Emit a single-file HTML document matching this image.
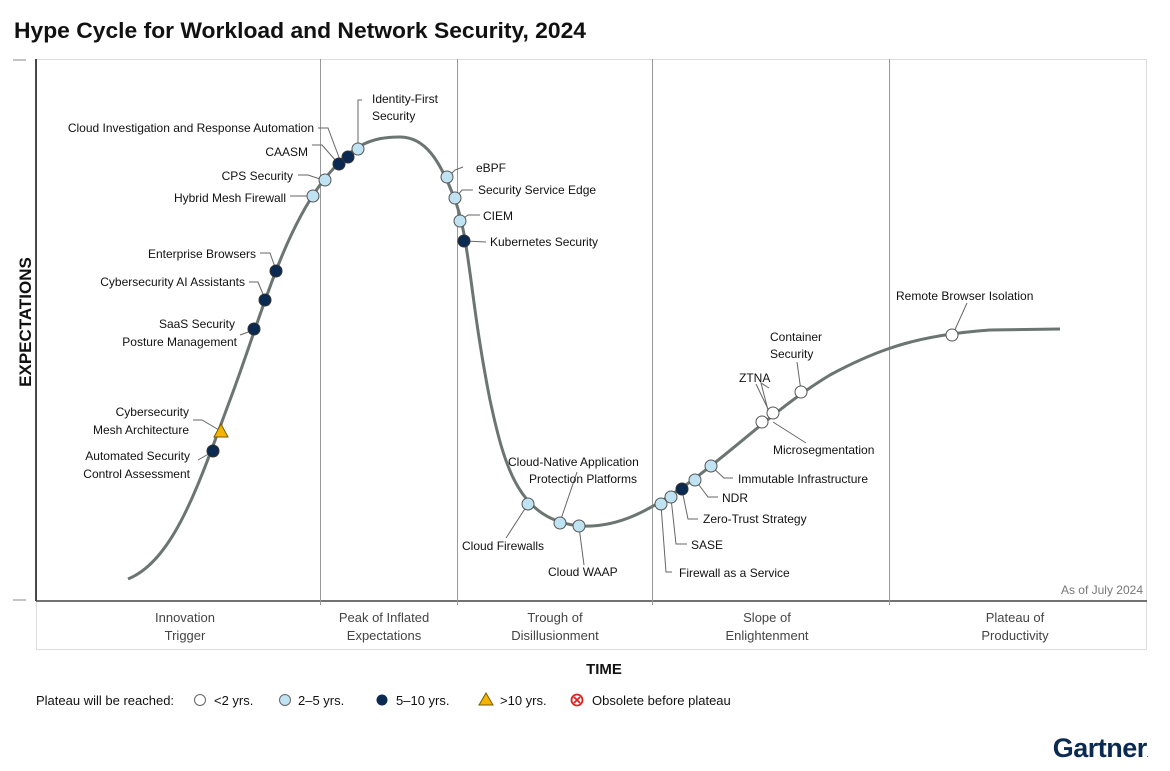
<!DOCTYPE html>
<html><head><meta charset="utf-8"><style>
html,body{margin:0;padding:0;background:#fff;}
svg{display:block;font-family:"Liberation Sans",sans-serif;}
.l{font-size:12px;fill:#111;}
.ln{fill:none;stroke:#666;stroke-width:1;}
.g{fill:#fff;stroke:#555;stroke-width:1;}
.b{fill:#bfe3f2;stroke:#555;stroke-width:1;}
.n{fill:#0b2a52;stroke:#333;stroke-width:1;}
.ph{font-size:13px;fill:#444;}
</style></head><body>
<svg width="1170" height="771" viewBox="0 0 1170 771">
<text x="14" y="38" font-size="22" font-weight="bold" fill="#111" textLength="572" lengthAdjust="spacingAndGlyphs">Hype Cycle for Workload and Network Security, 2024</text>
<!-- frame -->
<line x1="36" y1="59.5" x2="1147" y2="59.5" stroke="#ddd"/>
<line x1="1146.5" y1="59" x2="1146.5" y2="650" stroke="#ddd"/>
<line x1="36.5" y1="59" x2="36.5" y2="650" stroke="#ddd"/>
<line x1="36" y1="649.5" x2="1147" y2="649.5" stroke="#ddd"/>
<line x1="36" y1="59" x2="36" y2="601" stroke="#111" stroke-width="1.5"/>
<line x1="36" y1="601" x2="1147" y2="601" stroke="#444" stroke-width="1.5"/>
<line x1="13" y1="60" x2="26" y2="60" stroke="#888"/>
<line x1="13" y1="600" x2="26" y2="600" stroke="#888"/>
<g stroke="#999" stroke-width="1">
<line x1="320.5" y1="59" x2="320.5" y2="605"/>
<line x1="457.5" y1="59" x2="457.5" y2="605"/>
<line x1="652.5" y1="59" x2="652.5" y2="605"/>
<line x1="889.5" y1="59" x2="889.5" y2="605"/>
</g>
<text x="1143" y="594" font-size="12" fill="#777" text-anchor="end">As of July 2024</text>
<g class="ph" text-anchor="middle">
<text x="185" y="622">Innovation</text><text x="185" y="640">Trigger</text>
<text x="384" y="622">Peak of Inflated</text><text x="384" y="640">Expectations</text>
<text x="555" y="622">Trough of</text><text x="555" y="640">Disillusionment</text>
<text x="767" y="622">Slope of</text><text x="767" y="640">Enlightenment</text>
<text x="1015" y="622">Plateau of</text><text x="1015" y="640">Productivity</text>
</g>
<text x="604" y="674" font-size="15" font-weight="bold" text-anchor="middle" fill="#111">TIME</text>
<text transform="translate(31,322) rotate(-90)" font-size="17" font-weight="bold" text-anchor="middle" fill="#111">EXPECTATIONS</text>
<!-- curve -->
<path d="M128,579 C175,560 200,480 230,400 C260,320 280,240 320,185 C350,145 370,137 400,137 C425,137 440,160 455,200 C470,240 470,300 490,400 C505,470 520,520 580,526 C620,528 650,510 690,482 C740,445 780,405 830,375 C880,348 920,335 990,330 L1060,329" fill="none" stroke="#6b7572" stroke-width="3"/>
<!-- leaders -->
<g class="ln">
<polyline points="318,128 328,128 340,160"/>
<polyline points="312,145 322,145 337,162"/>
<polyline points="298,175 308,175 323,180"/>
<polyline points="290,196 313,196"/>
<polyline points="362,100 358,100 358,148"/>
<polyline points="463,167 455,170 448,177"/>
<polyline points="473,190 462,190 456,197"/>
<polyline points="480,215 468,215 461,220"/>
<polyline points="486,242 465,241"/>
<polyline points="260,253 270,253 276,270"/>
<polyline points="249,282 258,282 265,299"/>
<polyline points="240,335 254,330"/>
<polyline points="193,420 202,420 219,430"/>
<polyline points="198,460 212,452"/>
<polyline points="506,538 528,504"/>
<polyline points="577,472 560,522"/>
<polyline points="584,565 579,527"/>
<polyline points="672,572 666,572 661,505"/>
<polyline points="687,544 676,544 671,498"/>
<polyline points="698,519 688,519 682,490"/>
<polyline points="718,497 708,497 696,481"/>
<polyline points="733,478 724,478 712,467"/>
<polyline points="769,388 761,383 768,410"/>
<polyline points="756,384 769,411"/>
<polyline points="797,362 801,391"/>
<polyline points="806,443 773,422"/>
<polyline points="967,303 953,334"/>
</g>
<!-- dots -->
<circle class="n" cx="213" cy="451" r="6"/>
<polygon points="221,424 228,437 214,437" fill="#f5b400" stroke="#7a5a00" stroke-width="1"/>
<circle class="n" cx="254" cy="329" r="6"/>
<circle class="n" cx="265" cy="300" r="6"/>
<circle class="n" cx="276" cy="271" r="6"/>
<circle class="b" cx="313" cy="196" r="6"/>
<circle class="b" cx="325" cy="180" r="6"/>
<circle class="n" cx="339" cy="164" r="6"/>
<circle class="n" cx="348" cy="157" r="6"/>
<circle class="b" cx="358" cy="149" r="6"/>
<circle class="b" cx="447" cy="177" r="6"/>
<circle class="b" cx="455" cy="198" r="6"/>
<circle class="b" cx="460" cy="221" r="6"/>
<circle class="n" cx="464" cy="241" r="6"/>
<circle class="b" cx="528" cy="504" r="6"/>
<circle class="b" cx="560" cy="523" r="6"/>
<circle class="b" cx="579" cy="526" r="6"/>
<circle class="b" cx="661" cy="504" r="6"/>
<circle class="b" cx="671" cy="497" r="6"/>
<circle class="n" cx="682" cy="489" r="6"/>
<circle class="b" cx="695" cy="480" r="6"/>
<circle class="b" cx="711" cy="466" r="6"/>
<circle class="g" cx="762" cy="422" r="6"/>
<circle class="g" cx="773" cy="413" r="6"/>
<circle class="g" cx="801" cy="392" r="6"/>
<circle class="g" cx="952" cy="335" r="6"/>
<!-- labels -->
<g class="l">
<text x="314" y="132" text-anchor="end">Cloud Investigation and Response Automation</text>
<text x="308" y="156" text-anchor="end">CAASM</text>
<text x="293" y="180" text-anchor="end">CPS Security</text>
<text x="286" y="202" text-anchor="end">Hybrid Mesh Firewall</text>
<text x="372" y="103">Identity-First</text><text x="372" y="120">Security</text>
<text x="476" y="172">eBPF</text>
<text x="478" y="194">Security Service Edge</text>
<text x="483" y="220">CIEM</text>
<text x="490" y="246">Kubernetes Security</text>
<text x="256" y="258" text-anchor="end">Enterprise Browsers</text>
<text x="245" y="286" text-anchor="end">Cybersecurity AI Assistants</text>
<text x="235" y="328" text-anchor="end">SaaS Security</text><text x="237" y="346" text-anchor="end">Posture Management</text>
<text x="189" y="416" text-anchor="end">Cybersecurity</text><text x="189" y="434" text-anchor="end">Mesh Architecture</text>
<text x="190" y="460" text-anchor="end">Automated Security</text><text x="190" y="478" text-anchor="end">Control Assessment</text>
<text x="508" y="466">Cloud-Native Application</text><text x="529" y="483">Protection Platforms</text>
<text x="462" y="550">Cloud Firewalls</text>
<text x="548" y="576">Cloud WAAP</text>
<text x="679" y="577">Firewall as a Service</text>
<text x="691" y="549">SASE</text>
<text x="703" y="523">Zero-Trust Strategy</text>
<text x="722" y="502">NDR</text>
<text x="738" y="483">Immutable Infrastructure</text>
<text x="773" y="454">Microsegmentation</text>
<text x="739" y="382">ZTNA</text>
<text x="770" y="341">Container</text><text x="770" y="358">Security</text>
<text x="896" y="300">Remote Browser Isolation</text>
</g>
<!-- legend -->
<g font-size="13" fill="#111">
<text x="36" y="705">Plateau will be reached:</text>
<circle cx="200" cy="700" r="5.5" fill="#fff" stroke="#666"/>
<text x="214" y="705">&lt;2 yrs.</text>
<circle cx="285" cy="700" r="5.5" fill="#bfe3f2" stroke="#666"/>
<text x="298" y="705">2–5 yrs.</text>
<circle cx="382" cy="700" r="5.5" fill="#0b2a52"/>
<text x="396" y="705">5–10 yrs.</text>
<polygon points="486,693 493,705 479,705" fill="#f5b400" stroke="#7a5a00" stroke-width="1"/>
<text x="500" y="705">&gt;10 yrs.</text>
<circle cx="577" cy="700" r="5.5" fill="#fff" stroke="#d22" stroke-width="1.8"/>
<path d="M574,697 L580,703 M580,697 L574,703" stroke="#d22" stroke-width="1.8"/>
<text x="592" y="705">Obsolete before plateau</text>
</g>
<text x="1148" y="757" font-size="27" font-weight="bold" fill="#0b2a52" text-anchor="end" letter-spacing="-0.5">Gartner<tspan font-size="6">.</tspan></text>
</svg>
</body></html>
